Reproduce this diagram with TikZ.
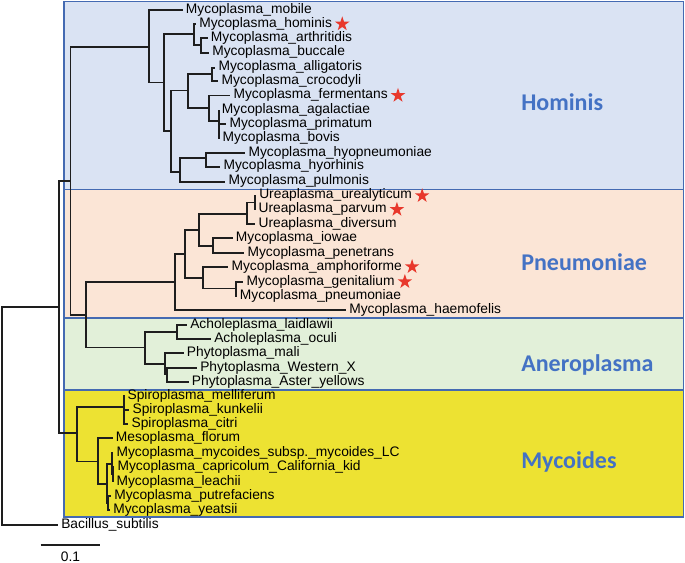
\documentclass[tikz,border=0pt]{standalone}
\usepackage{fontspec}
\usetikzlibrary{shapes.geometric}
\newfontfamily\leaffamily{Liberation Sans}
\newfontfamily\grpfamily{Carlito}
\newcommand\leaffnt{\leaffamily\fontsize{10.35pt}{12pt}\selectfont}
\newcommand\grpfnt{\grpfamily\bfseries\fontsize{18pt}{20pt}\selectfont}
\definecolor{homfill}{RGB}{218,227,243}
\definecolor{pnefill}{RGB}{251,229,214}
\definecolor{anefill}{RGB}{226,240,217}
\definecolor{mycfill}{RGB}{237,226,50}
\definecolor{boxline}{RGB}{68,106,178}
\definecolor{grpcol}{RGB}{68,114,196}
\definecolor{starcol}{RGB}{232,56,44}
\definecolor{treecol}{RGB}{30,30,30}
\tikzset{
  leaf/.style={anchor=west, inner xsep=2.25pt, inner ysep=0pt, text height=7.2pt, text depth=2.25pt, font=\leaffnt},
  br/.style={line width=1.35pt, draw=treecol},
  grouplab/.style={anchor=base west, inner sep=0pt, font=\grpfnt, text=grpcol},
  groupbox/.style={draw=boxline, line width=1.1pt},
  redstar/.style={star, star points=5, star point ratio=2.6, fill=starcol, draw=none, inner sep=0pt, minimum size=11.5pt}
}
\begin{document}
\begin{tikzpicture}[x=0.75pt, y=-0.75pt]
\useasboundingbox (0,0) rectangle (685,563);
% group boxes
\fill[homfill] (64,1.5) rectangle (683.5,189.5);
\fill[pnefill] (64,189.5) rectangle (683.5,318);
\fill[anefill] (64,318) rectangle (683.5,390);
\fill[mycfill] (64,390) rectangle (683.5,517);
\draw[groupbox] (64,1.5) rectangle (683.5,189.5);
\draw[groupbox] (64,189.5) rectangle (683.5,318);
\draw[groupbox] (64,318) rectangle (683.5,390);
\draw[groupbox] (64,390) rectangle (683.5,517);
\node[grouplab] (lhom) at (521,110.7) {Hominis};
\node[grouplab] (lpne) at (521,270) {Pneumoniae};
\node[grouplab] (lane) at (521,371.6) {Aneroplasma};
\node[grouplab] (lmyc) at (521,468.6) {Mycoides};
% leaves
\node[leaf] (mobile) at (182.7,10) {Mycoplasma\_mobile};
\node[leaf] (hominis) at (196,24) {Mycoplasma\_hominis};
\node[leaf] (arthritidis) at (207.7,38.3) {Mycoplasma\_arthritidis};
\node[leaf] (buccale) at (209,52.7) {Mycoplasma\_buccale};
\node[leaf] (alligatoris) at (215.3,67.7) {Mycoplasma\_alligatoris};
\node[leaf] (crocodyli) at (218.3,81) {Mycoplasma\_crocodyli};
\node[leaf] (fermentans) at (230.3,95.5) {Mycoplasma\_fermentans};
\node[leaf] (agalactiae) at (218.7,110) {Mycoplasma\_agalactiae};
\node[leaf] (primatum) at (226.3,124.3) {Mycoplasma\_primatum};
\node[leaf] (bovis) at (219.3,138.3) {Mycoplasma\_bovis};
\node[leaf] (hyopneumoniae) at (245.3,153.3) {Mycoplasma\_hyopneumoniae};
\node[leaf] (hyorhinis) at (220.3,166.7) {Mycoplasma\_hyorhinis};
\node[leaf] (pulmonis) at (225.3,181.7) {Mycoplasma\_pulmonis};
\node[leaf] (urealyticum) at (256,195.7) {Ureaplasma\_urealyticum};
\node[leaf] (parvum) at (255.3,209.5) {Ureaplasma\_parvum};
\node[leaf] (diversum) at (255.3,224.3) {Ureaplasma\_diversum};
\node[leaf] (iowae) at (232.7,238.3) {Mycoplasma\_iowae};
\node[leaf] (penetrans) at (244.3,252.7) {Mycoplasma\_penetrans};
\node[leaf] (amphoriforme) at (228.3,266.7) {Mycoplasma\_amphoriforme};
\node[leaf] (genitalium) at (243.3,281.7) {Mycoplasma\_genitalium};
\node[leaf] (pneumoniae) at (236.7,295.7) {Mycoplasma\_pneumoniae};
\node[leaf] (haemofelis) at (346,310) {Mycoplasma\_haemofelis};
\node[leaf] (laidlawii) at (187,325) {Acholeplasma\_laidlawii};
\node[leaf] (oculi) at (211,339) {Acholeplasma\_oculi};
\node[leaf] (mali) at (183.7,352.7) {Phytoplasma\_mali};
\node[leaf] (westernx) at (197,367.7) {Phytoplasma\_Western\_X};
\node[leaf] (aster) at (188.7,381.7) {Phytoplasma\_Aster\_yellows};
\node[leaf] (melliferum) at (124.3,396) {Spiroplasma\_melliferum};
\node[leaf] (kunkelii) at (129.3,410) {Spiroplasma\_kunkelii};
\node[leaf] (citri) at (128.3,424.3) {Spiroplasma\_citri};
\node[leaf] (florum) at (112.7,438.3) {Mesoplasma\_florum};
\node[leaf] (mycoides) at (113.3,453.3) {Mycoplasma\_mycoides\_subsp.\_mycoides\_LC};
\node[leaf] (capricolum) at (114.3,467.3) {Mycoplasma\_capricolum\_California\_kid};
\node[leaf] (leachii) at (113.3,481.7) {Mycoplasma\_leachii};
\node[leaf] (putrefaciens) at (111,495.7) {Mycoplasma\_putrefaciens};
\node[leaf] (yeatsii) at (110,510) {Mycoplasma\_yeatsii};
\node[leaf] (bacillus) at (58,525) {Bacillus\_subtilis};
% stars
\foreach \s in {hominis,fermentans,urealyticum,parvum,amphoriforme,genitalium}
  \node[redstar] (star-\s) at ([xshift=5.25pt]\s.east) {};
% internal nodes
\coordinate (R) at (1.7,416);
\coordinate (N1) at (59,307.3);
\coordinate (H0) at (70.5,181);
\coordinate (Hom) at (149.3,47);
\coordinate (Hb) at (164,82.5);
\coordinate (Hc) at (194.3,34.3);
\coordinate (He) at (201.3,45);
\coordinate (Hd) at (171,130.7);
\coordinate (Hf) at (188.3,90.5);
\coordinate (Hh) at (212.3,74.3);
\coordinate (Hi) at (209.3,108.3);
\coordinate (Hj) at (218.7,121);
\coordinate (Hg) at (180,171.7);
\coordinate (Hk) at (206,158.3);
\coordinate (PA) at (86,315.3);
\coordinate (P0) at (175,281.7);
\coordinate (Pa) at (185,254.3);
\coordinate (Pb) at (199,230);
\coordinate (Pd) at (247.3,214);
\coordinate (Pf) at (255,202.5);
\coordinate (Pe) at (213.3,246);
\coordinate (Pc) at (203.3,277.7);
\coordinate (Pg) at (235.7,288.5);
\coordinate (A0) at (145,347.5);
\coordinate (Aa) at (177.3,331.7);
\coordinate (Ab) at (165,364.3);
\coordinate (Ac) at (166.7,374.5);
\coordinate (M0) at (76.7,433.3);
\coordinate (Ma) at (124,406.7);
\coordinate (Mb) at (98.3,461.5);
\coordinate (Mc) at (106.7,484);
\coordinate (Md) at (111.7,464);
\coordinate (Mf) at (113.3,474.5);
\coordinate (Me) at (108.3,503);
% branches
\draw[br] (R) |- (N1);
\draw[br] (R) |- (bacillus.west);
\draw[br] (N1) |- (H0);
\draw[br] (N1) |- (M0);
\draw[br] (H0) |- (Hom);
\draw[br] (H0) |- (PA);
\draw[br] (Hom) |- (mobile.west);
\draw[br] (Hom) |- (Hb);
\draw[br] (Hb) |- (Hc);
\draw[br] (Hb) |- (Hd);
\draw[br] (Hc) |- (hominis.west);
\draw[br] (Hc) |- (He);
\draw[br] (He) |- (arthritidis.west);
\draw[br] (He) |- (buccale.west);
\draw[br] (Hd) |- (Hf);
\draw[br] (Hd) |- (Hg);
\draw[br] (Hf) |- (Hh);
\draw[br] (Hf) |- (Hi);
\draw[br] (Hh) |- (alligatoris.west);
\draw[br] (Hh) |- (crocodyli.west);
\draw[br] (Hi) |- (fermentans.west);
\draw[br] (Hi) |- (Hj);
\draw[br] (Hj) |- (agalactiae.west);
\draw[br] (Hj) |- (primatum.west);
\draw[br] (Hj) |- (bovis.west);
\draw[br] (Hg) |- (Hk);
\draw[br] (Hg) |- (pulmonis.west);
\draw[br] (Hk) |- (hyopneumoniae.west);
\draw[br] (Hk) |- (hyorhinis.west);
\draw[br] (PA) |- (P0);
\draw[br] (PA) |- (A0);
\draw[br] (P0) |- (Pa);
\draw[br] (P0) |- (haemofelis.west);
\draw[br] (Pa) |- (Pb);
\draw[br] (Pa) |- (Pc);
\draw[br] (Pb) |- (Pd);
\draw[br] (Pb) |- (Pe);
\draw[br] (Pd) |- (Pf);
\draw[br] (Pd) |- (diversum.west);
\draw[br] (Pf) |- (urealyticum.west);
\draw[br] (Pf) |- (parvum.west);
\draw[br] (Pe) |- (iowae.west);
\draw[br] (Pe) |- (penetrans.west);
\draw[br] (Pc) |- (amphoriforme.west);
\draw[br] (Pc) |- (Pg);
\draw[br] (Pg) |- (genitalium.west);
\draw[br] (Pg) |- (pneumoniae.west);
\draw[br] (A0) |- (Aa);
\draw[br] (A0) |- (Ab);
\draw[br] (Aa) |- (laidlawii.west);
\draw[br] (Aa) |- (oculi.west);
\draw[br] (Ab) |- (mali.west);
\draw[br] (Ab) |- (Ac);
\draw[br] (Ac) |- (westernx.west);
\draw[br] (Ac) |- (aster.west);
\draw[br] (M0) |- (Ma);
\draw[br] (M0) |- (Mb);
\draw[br] (Ma) |- (melliferum.west);
\draw[br] (Ma) |- (kunkelii.west);
\draw[br] (Ma) |- (citri.west);
\draw[br] (Mb) |- (florum.west);
\draw[br] (Mb) |- (Mc);
\draw[br] (Mc) |- (Md);
\draw[br] (Mc) |- (Me);
\draw[br] (Md) |- (mycoides.west);
\draw[br] (Md) |- (Mf);
\draw[br] (Mf) |- (capricolum.west);
\draw[br] (Mf) |- (leachii.west);
\draw[br] (Me) |- (putrefaciens.west);
\draw[br] (Me) |- (yeatsii.west);
% scale bar
\coordinate (sbA) at (40.7,545);
\coordinate (sbB) at (100,545);
\draw[br] (sbA) -- (sbB);
\node[inner sep=0pt, font=\leaffnt] (sblabel) at (70.5,556.5) {0.1};
\end{tikzpicture}
\end{document}
